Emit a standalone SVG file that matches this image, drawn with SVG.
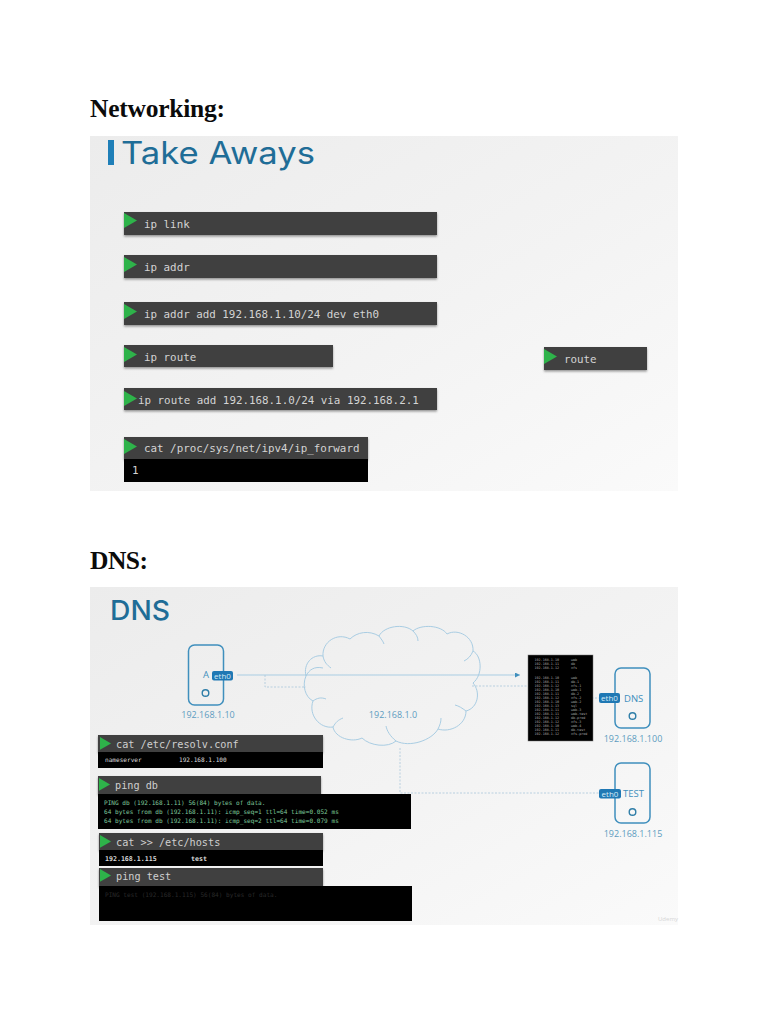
<svg xmlns="http://www.w3.org/2000/svg" width="768" height="1024" viewBox="0 0 768 1024">
<style>
.h{font:bold 25.5px "Liberation Serif",serif;fill:#0b0b0b}
.bar{fill:#404040;filter:url(#sh)}
.blk{fill:#000}
.play{fill:#2eb34a}
.cmd{font-family:"DejaVu Sans Mono",monospace;font-size:10.85px;fill:#d4d4d4}
.cmd2{font-family:"DejaVu Sans Mono",monospace;font-size:10.2px;fill:#cfcfcf}
.out{font-family:"DejaVu Sans Mono",monospace;font-size:6.1px;fill:#7fc79a}
.wht{font-family:"DejaVu Sans Mono",monospace;font-size:6.6px;font-weight:bold;fill:#d8d8d8}
.tb{font-family:"DejaVu Sans Mono",monospace;font-size:3.4px;fill:#a8a8a8}
.host{fill:none;stroke:#3f8fbd;stroke-width:1.5}
.ring{fill:none;stroke:#2f7ea8;stroke-width:1.4}
.badge{fill:#1f78b4}
.bt{font:8px "Open Sans",sans-serif;fill:#d7ebf7;text-anchor:middle}
.lbl{font:9px "Open Sans",sans-serif;fill:#5d9cc0;text-anchor:middle}
.nm{font:9.5px "Open Sans",sans-serif;fill:#3f8fbd}
.wire{fill:none;stroke:#a9cde3;stroke-width:1}
.dash{fill:none;stroke:#a9c6da;stroke-width:.8;stroke-dasharray:2 1.5}
.cloud{fill:none;stroke:#a9cde3;stroke-width:1}
</style>
<defs>
<linearGradient id="bg" x1="0" y1="0" x2="1" y2="1"><stop offset="0" stop-color="#ececec"/><stop offset=".55" stop-color="#f3f3f3"/><stop offset="1" stop-color="#fafafa"/></linearGradient>
<filter id="sh" x="-5%" y="-20%" width="110%" height="150%"><feDropShadow dx="0" dy="1.5" stdDeviation="1.2" flood-color="#000" flood-opacity=".4"/></filter>
<polygon id="pl" class="play" points="0,0 13,7.5 0,15"/>
<marker id="arr" markerWidth="6" markerHeight="6" refX="5" refY="2.5" orient="auto"><path d="M0,0L5,2.5L0,5z" fill="#3f8fbd"/></marker>
</defs>
<rect width="768" height="1024" fill="#fff"/>
<text class="h" x="90" y="117" textLength="135">Networking:</text>
<text class="h" x="90" y="569" textLength="58">DNS:</text>

<g id="panel-takeaways">
<rect x="90" y="136" width="588" height="355" fill="url(#bg)"/>
<rect x="108" y="140" width="6" height="25" fill="#1f7fb8"/>
<text x="121" y="164" font-family="Inter,sans-serif" font-size="31" fill="#1f6d97" textLength="194" lengthAdjust="spacingAndGlyphs">Take Aways</text>
</g>
<g id="cmd-ip-link"><rect class="bar" x="124" y="212" width="313" height="23"/><use href="#pl" x="124" y="213"/><text class="cmd" x="144" y="228">ip link</text></g>
<g id="cmd-ip-addr"><rect class="bar" x="124" y="255" width="313" height="23"/><use href="#pl" x="124" y="257"/><text class="cmd" x="144" y="271">ip addr</text></g>
<g id="cmd-ip-addr-add"><rect class="bar" x="124" y="302" width="313" height="23"/><use href="#pl" x="124" y="304"/><text class="cmd" x="144" y="318">ip addr add 192.168.1.10/24 dev eth0</text></g>
<g id="cmd-ip-route"><rect class="bar" x="124" y="345" width="209" height="22"/><use href="#pl" x="124" y="347"/><text class="cmd" x="144" y="361">ip route</text></g>
<g id="cmd-ip-route-add"><rect class="bar" x="124" y="388" width="313" height="22"/><use href="#pl" x="124" y="391"/><text class="cmd" x="138" y="404">ip route add 192.168.1.0/24 via 192.168.2.1</text></g>
<g id="cmd-ip-forward"><rect class="bar" x="124" y="437" width="244" height="22"/><rect class="blk" x="124" y="459" width="244" height="23"/><use href="#pl" x="124" y="439"/><text class="cmd" x="144" y="452">cat /proc/sys/net/ipv4/ip_forward</text><text class="cmd" x="132" y="474" fill="#ddd">1</text></g>
<g id="cmd-route"><rect class="bar" x="544" y="347" width="103" height="23"/><use href="#pl" x="544" y="349"/><text class="cmd" x="564" y="363">route</text></g>

<g id="panel-dns">
<rect x="90" y="587" width="588" height="338" fill="url(#bg)"/>
<text x="110" y="620" font-family="Inter,sans-serif" font-size="27" font-weight="500" fill="#1f6d97" textLength="60" lengthAdjust="spacingAndGlyphs">DNS</text>
<text x="658" y="921" font-family="Open Sans,sans-serif" font-size="6" fill="#d6d6d6">Udemy</text>
</g>

<g id="connectors">
<path class="wire" d="M237,675H520" marker-end="url(#arr)"/>
<path class="dash" d="M265,675V687H306"/>
<path class="dash" d="M472,686H528"/>
<path class="dash" d="M560,698H599"/>
<path class="dash" d="M400,748V793H599"/>
</g>

<g id="cloud-network">
<path class="cloud" d="M306,676C303,664 312,654 323,656C322,642 337,632 350,639C357,632 369,630 379,636C384,626 404,623 413,631C421,624 441,625 447,634C458,628 474,637 473,651C482,656 483,675 473,683C481,692 478,708 466,711C466,725 450,733 438,729C432,740 410,748 396,741C388,748 370,746 362,738C352,743 335,738 333,727C320,729 308,715 313,701C305,697 302,685 306,676Z"/>
<path class="cloud" d="M306,676C309,670 314,666 323,668M323,656C324,662 327,665 331,668M313,701C317,698 321,697 326,699M333,727C336,722 338,720 343,718M396,741C390,736 387,731 386,726M466,711C462,708 459,706 455,705M438,729C440,725 441,722 441,718M473,651C471,656 468,659 464,661M413,631C416,634 418,637 418,641M379,636C381,639 383,641 384,644"/>
<text class="lbl" x="393" y="718">192.168.1.0</text>
</g>

<g id="host-a">
<rect class="host" x="188.500" y="645" width="35" height="60" rx="6"/>
<circle class="ring" cx="205.500" cy="693" r="3.300"/>
<text class="nm" x="203" y="678">A</text>
<rect class="badge" x="212" y="671" width="21" height="9.500" rx="2"/><text class="bt" x="222.500" y="678.500">eth0</text>
<text class="lbl" x="208" y="718">192.168.1.10</text>
</g>

<g id="hosts-table">
<rect x="528" y="655" width="65" height="86" fill="#000" stroke="#777" stroke-width=".5"/>
<g class="tb">
<text x="534.500" y="660.500">192.168.1.10</text><text x="571" y="660.500">web</text>
<text x="534.500" y="664.500">192.168.1.11</text><text x="571" y="664.500">db</text>
<text x="534.500" y="668.500">192.168.1.12</text><text x="571" y="668.500">nfs</text>
<text x="534.500" y="678.500">192.168.1.10</text><text x="571" y="678.500">web</text>
<text x="534.500" y="682.500">192.168.1.11</text><text x="571" y="682.500">db.1</text>
<text x="534.500" y="686.500">192.168.1.12</text><text x="571" y="686.500">nfs.1</text>
<text x="534.500" y="690.500">192.168.1.10</text><text x="571" y="690.500">web.1</text>
<text x="534.500" y="694.500">192.168.1.11</text><text x="571" y="694.500">db.2</text>
<text x="534.500" y="698.500">192.168.1.12</text><text x="571" y="698.500">nfs.2</text>
<text x="534.500" y="702.500">192.168.1.10</text><text x="571" y="702.500">web.2</text>
<text x="534.500" y="706.500">192.168.1.13</text><text x="571" y="706.500">sql</text>
<text x="534.500" y="710.500">192.168.1.11</text><text x="571" y="710.500">web.3</text>
<text x="534.500" y="714.500">192.168.1.11</text><text x="571" y="714.500">web.test</text>
<text x="534.500" y="718.500">192.168.1.12</text><text x="571" y="718.500">db.prod</text>
<text x="534.500" y="722.500">192.168.1.12</text><text x="571" y="722.500">nfs.3</text>
<text x="534.500" y="726.500">192.168.1.10</text><text x="571" y="726.500">web.4</text>
<text x="534.500" y="730.500">192.168.1.11</text><text x="571" y="730.500">db.test</text>
<text x="534.500" y="734.500">192.168.1.12</text><text x="571" y="734.500">nfs.prod</text>
</g>
</g>

<g id="host-dns">
<rect class="host" x="615" y="668" width="35" height="60" rx="6"/>
<circle class="ring" cx="632.500" cy="716" r="3.300"/>
<text class="nm" x="624" y="702">DNS</text>
<rect class="badge" x="599" y="693" width="21" height="10" rx="2"/><text class="bt" x="609.500" y="701">eth0</text>
<text class="lbl" x="633" y="742">192.168.1.100</text>
</g>

<g id="host-test">
<rect class="host" x="615" y="763" width="35" height="60" rx="6"/>
<circle class="ring" cx="632.500" cy="812" r="3.300"/>
<text class="nm" x="623" y="797" font-size="8.5">TEST</text>
<rect class="badge" x="599" y="789" width="22" height="9.500" rx="2"/><text class="bt" x="610" y="796.500">eth0</text>
<text class="lbl" x="633" y="837">192.168.1.115</text>
</g>

<g id="term-resolv"><rect class="bar" x="98" y="735" width="225" height="17"/><rect class="blk" x="98" y="752" width="225" height="16"/><use href="#pl" transform="translate(100,737) scale(.85)"/><text class="cmd2" x="116" y="748">cat /etc/resolv.conf</text><text class="out" x="105" y="762" fill="#ddd" style="fill:#ddd">nameserver</text><text class="out" x="179" y="762" style="fill:#ddd">192.168.1.100</text></g>
<g id="term-ping-db"><rect class="bar" x="98" y="776" width="223" height="18"/><rect class="blk" x="98" y="794" width="313" height="35"/><use href="#pl" transform="translate(99,778) scale(.85)"/><text class="cmd2" x="115" y="789">ping db</text><text class="out" x="104" y="805">PING db (192.168.1.11) 56(84) bytes of data.</text><text class="out" x="104" y="814">64 bytes from db (192.168.1.11): icmp_seq=1 ttl=64 time=0.052 ms</text><text class="out" x="104" y="823">64 bytes from db (192.168.1.11): icmp_seq=2 ttl=64 time=0.079 ms</text></g>
<g id="term-hosts"><rect class="bar" x="99" y="833" width="224" height="17"/><rect class="blk" x="99" y="850" width="224" height="16"/><use href="#pl" transform="translate(100,835) scale(.85)"/><text class="cmd2" x="116" y="846">cat &gt;&gt; /etc/hosts</text><text class="wht" x="105" y="861">192.168.1.115</text><text class="wht" x="191" y="861">test</text></g>
<g id="term-ping-test"><rect class="bar" x="99" y="868" width="224" height="18"/><rect class="blk" x="99" y="886" width="313" height="35"/><use href="#pl" transform="translate(100,869) scale(.85)"/><text class="cmd2" x="116" y="880">ping test</text><text class="out" x="105" y="897" style="fill:#2a2a2a">PING test (192.168.1.115) 56(84) bytes of data.</text></g>
</svg>
